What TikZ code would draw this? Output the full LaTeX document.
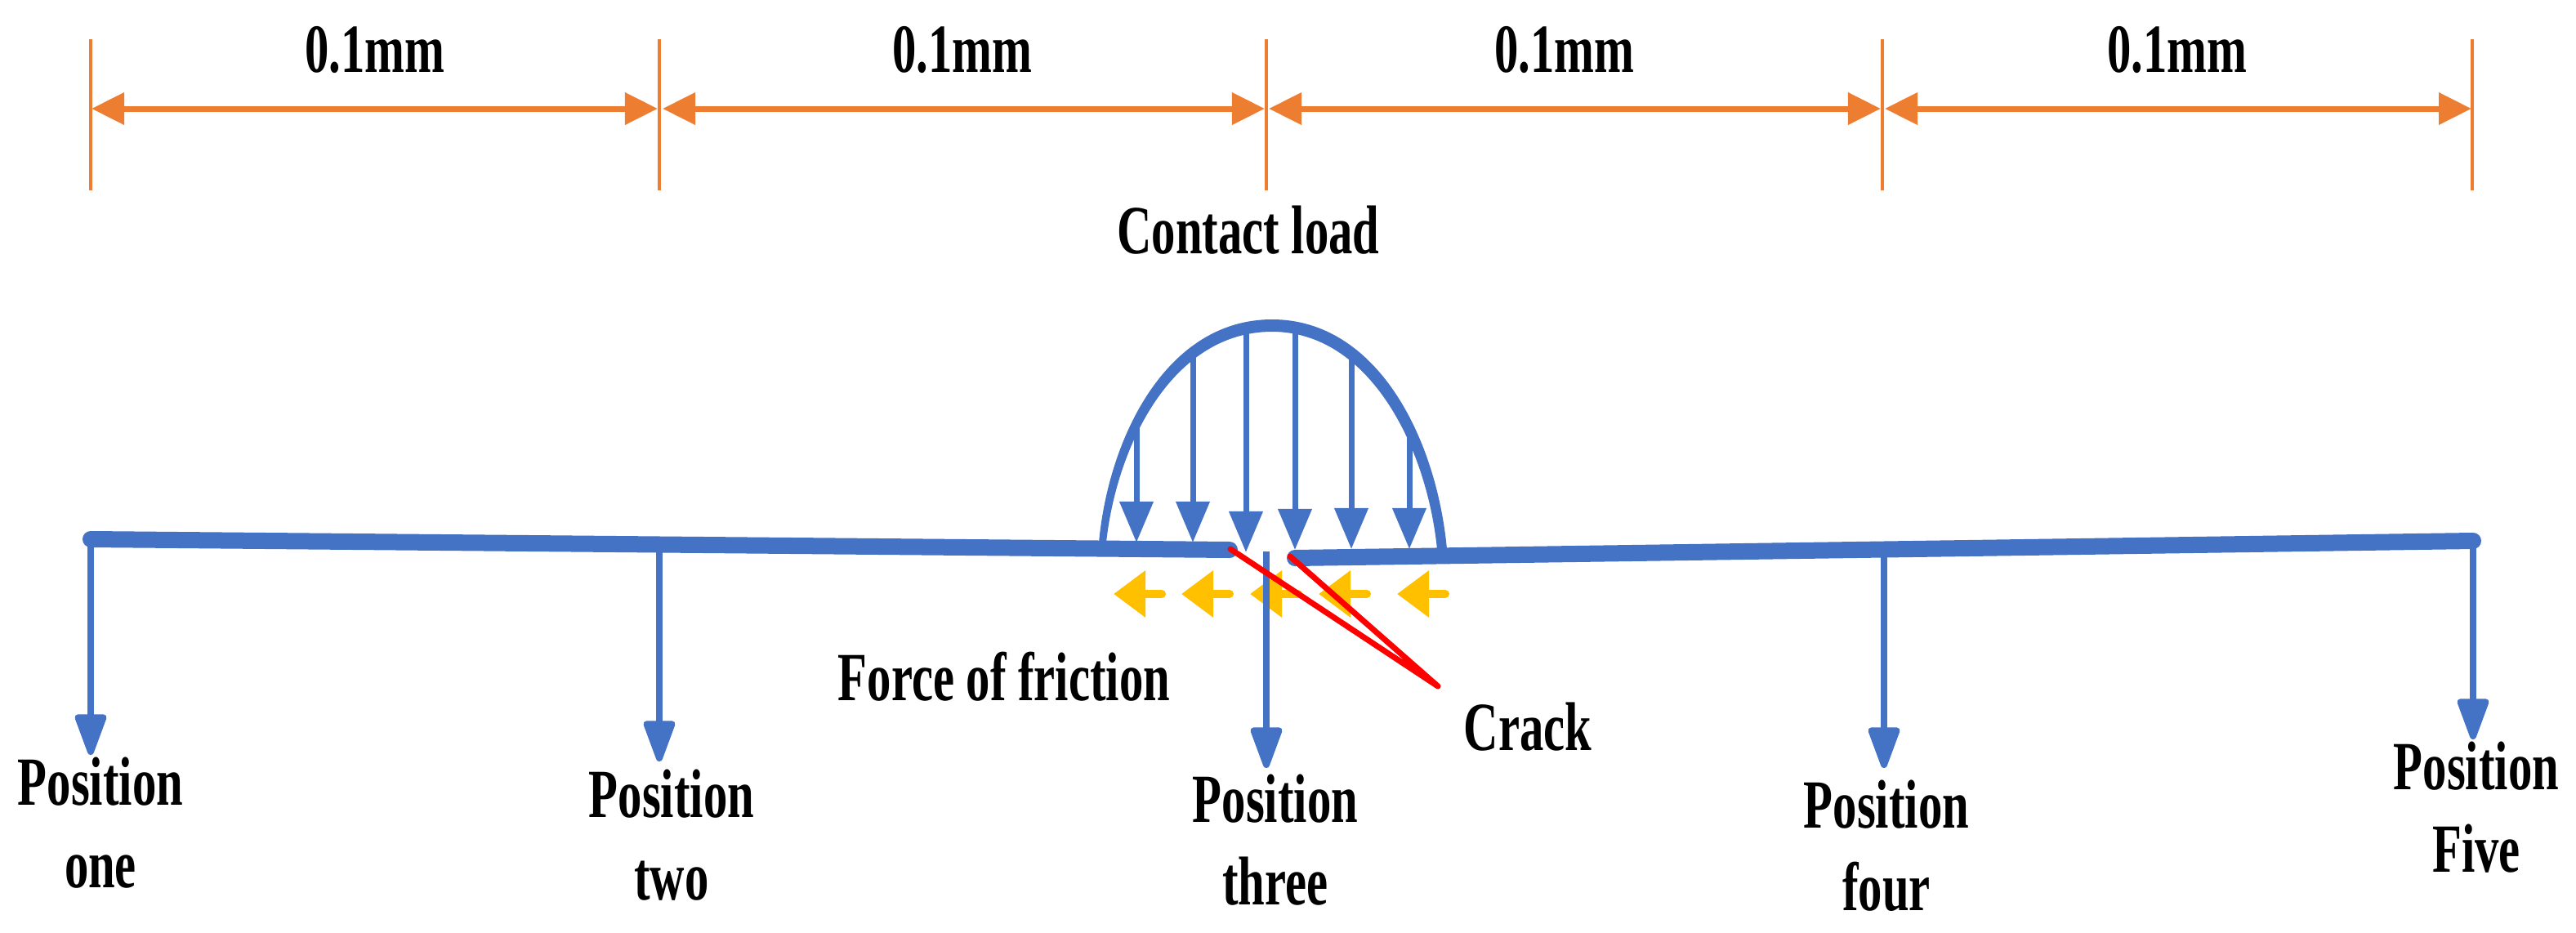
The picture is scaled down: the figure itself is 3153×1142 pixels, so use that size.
\documentclass[tikz,border=0pt]{standalone}
\usepackage{fontspec}
\newfontfamily\labelfont[FakeStretch=0.695]{Liberation Serif}
\usetikzlibrary{arrows.meta,positioning}
\definecolor{beamblue}{HTML}{4472C4}
\definecolor{dimorange}{HTML}{ED7D31}
\definecolor{frictionyellow}{HTML}{FFC000}
\tikzset{
    %Define standard text
    lab/.style={
           font=\labelfont\bfseries\fontsize{24}{28.45}\selectfont,
           inner sep=0pt,
           anchor=base,
           text=black},
    twolines/.style={lab, align=center},
    %Define arrow styles
    dimline/.style={
           {Triangle[length=.4cm,width=.38cm]}-{Triangle[length=.4cm,width=.38cm]},
           draw=dimorange, line width=.07cm},
    tick/.style={draw=dimorange, line width=.045cm},
    beam/.style={draw=beamblue, line width=.2cm, line cap=round},
    loadarrow/.style={
           -{Triangle[length=.5cm,width=.4cm]},
           draw=beamblue, line width=.07cm},
    posarrow/.style={
           -{Triangle[length=.58cm,width=.4cm,round]},
           draw=beamblue, line width=.08cm},
    friction/.style={
           -{Triangle[length=.39cm,width=.55cm]},
           draw=frictionyellow, line width=.1cm},
    crackline/.style={draw=red, line width=.07cm, line cap=round, line join=round}
}

\begin{document}
\begin{tikzpicture}[x=.01cm,y=-.01cm]
\useasboundingbox (0,0) rectangle (3153,1142);
% dimensions
\foreach \name/\x in {a/111,b/807,c/1550,d/2304,e/3026}{
    \coordinate (\name top) at (\x,48);
    \coordinate (\name bot) at (\x,233);
    \draw[tick] (\name top) -- (\name bot);
}
\foreach \from/\fromx/\to/\tox/\lx in {a/112/b/805/459,b/811/c/1548/1178,c/1553/d/2302/1915,d/2307/e/3025/2665}{
    \coordinate (\from l) at (\fromx,133);
    \coordinate (\from r) at (\tox,133);
    \draw[dimline] (\from l) -- (\from r);
    \node[lab] (dim\from) at (\lx,88) {0.1mm};
}
\node[lab] (contact) at (1528,310) {Contact load};
% friction arrows
\foreach \i/\x in {1/1363,2/1446,3/1530,4/1614,5/1710}{
    \coordinate (ft\i) at (\x,727);
    \coordinate (fs\i) at (\x+59,727);
    \draw[friction, line cap=round] (fs\i) -- (ft\i);
}
% contact pressure
\fill[beamblue] (1345,664) .. controls (1357,535) and (1428,391) .. (1557,391)
    .. controls (1685,391) and (1758,535) .. (1771,672) -- (1759,672)
    .. controls (1746,545) and (1675,406) .. (1557,406)
    .. controls (1435,406) and (1367,545) .. (1354,664) -- cycle;
\foreach \i/\x/\ya/\yb in {1/1391/520/664,2/1460/438/664,3/1525/408/676,4/1585/408/673,5/1654/438/672,6/1725/520/672}{
    \coordinate (ls\i) at (\x,\ya);
    \coordinate (lt\i) at (\x,\yb);
    \draw[loadarrow] (ls\i) -- (lt\i);
}
% position arrows
\foreach \i/\x/\ya/\yb in {1/111/663/924,2/807/668/932,3/1550/675/940,4/2306/672/940,5/3027/662/905}{
    \coordinate (ps\i) at (\x,\ya);
    \coordinate (pt\i) at (\x,\yb);
    \draw[posarrow] (ps\i) -- (pt\i);
}
% beam with gap
\coordinate (b1) at (111,660);
\coordinate (b2) at (1505,673);
\coordinate (b3) at (1585,683);
\coordinate (b4) at (3027,662);
\draw[beam] (b1) -- (b2);
\draw[beam] (b3) -- (b4);
% crack
\coordinate (c1) at (1506,672);
\coordinate (c2) at (1760,840);
\coordinate (c3) at (1579,681);
\draw[crackline] (c1) -- (c2) -- (c3);
% labels
\node[lab] (friclab) at (1229,857) {Force of friction};
\node[lab] (cracklab) at (1870,918) {Crack};
\node[twolines] (pos1) at (123,1086) {Position\\one};
\node[twolines] (pos2) at (822,1101) {Position\\two};
\node[twolines] (pos3) at (1561,1107) {Position\\three};
\node[twolines] (pos4) at (2309,1114) {Position\\four};
\node[twolines] (pos5) at (3031,1067) {Position\\Five};
\end{tikzpicture}
\end{document}
